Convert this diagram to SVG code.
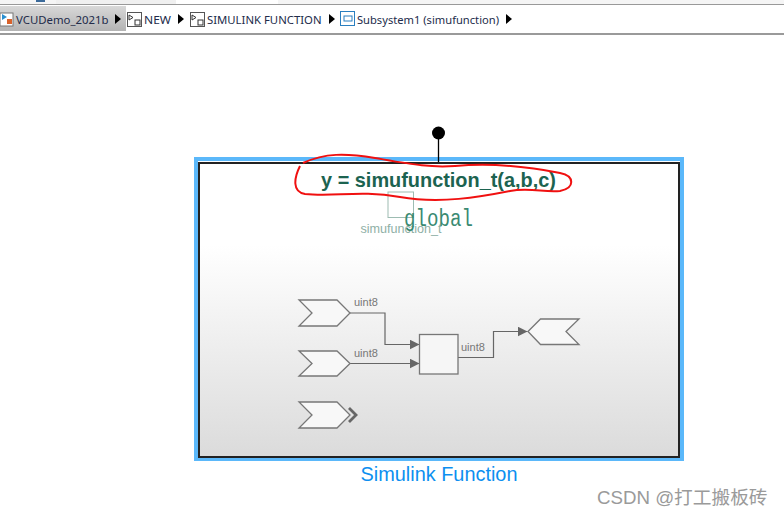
<svg xmlns="http://www.w3.org/2000/svg" width="784" height="516" viewBox="0 0 784 516">
<style>
text{font-family:"Liberation Sans",Arial,sans-serif}
.crumb{font-size:11.500px;fill:#222b4a;font-family:"Noto Sans","Liberation Sans",sans-serif}
.lbl{font-size:11px;fill:#777}
.port{fill:#f8f8f8;stroke:#777;stroke-width:1.3}
.wire{fill:none;stroke:#666;stroke-width:1.2}
.tri{fill:#000}
.ico{fill:#fff;stroke:#555;stroke-width:1}
</style>
<defs>
<linearGradient id="bg" x1="0" y1="0" x2="0" y2="1">
<stop offset="0" stop-color="#fff"/><stop offset="0.28" stop-color="#fff"/><stop offset="1" stop-color="#dbdbdb"/>
</linearGradient>
<linearGradient id="crumbbg" x1="0" y1="0" x2="0" y2="1">
<stop offset="0" stop-color="#d8d8d8"/><stop offset="1" stop-color="#b4b4b4"/>
</linearGradient>
<marker id="arr" markerUnits="userSpaceOnUse" markerWidth="11" markerHeight="10" refX="10" refY="5" orient="auto"><path d="M0 0L10 5L0 10Z" fill="#666"/></marker>
</defs>
<rect width="784" height="516" fill="#fff"/>
<g id="toolbar">
<rect x="0" y="0" width="784" height="4" fill="#f5f5f5"/>
<rect x="56" y="0" width="120" height="4" fill="#f0f0f0"/>
<rect x="176" y="0" width="102" height="4" fill="#fff"/>
<rect x="36" y="0" width="9" height="2" fill="#3b6a9a"/>
<rect x="0" y="4" width="784" height="1" fill="#999"/>
<rect x="0" y="6" width="126" height="25" fill="url(#crumbbg)"/>
<rect x="0" y="33" width="784" height="2" fill="#9a9a9a"/>
<rect x="0" y="13" width="13" height="13" fill="#fff" stroke="#777"/>
<path d="M2 14l5 3-5 3z" fill="#2a8fd0"/><rect x="7" y="19" width="5" height="5" fill="#d9622b"/>
<text class="crumb" x="16" y="24" textLength="92.500" lengthAdjust="spacingAndGlyphs">VCUDemo_2021b</text>
<path class="tri" d="M115 14l6 5-6 5z"/>
<rect class="ico" x="127.500" y="12.500" width="14" height="14"/>
<path d="M129 15l4 2.500-4 2.500z" fill="none" stroke="#333"/><rect x="135" y="20" width="5" height="5" fill="none" stroke="#333"/>
<text class="crumb" x="144" y="24" textLength="27" lengthAdjust="spacingAndGlyphs">NEW</text>
<path class="tri" d="M178 14l6 5-6 5z"/>
<rect class="ico" x="190.500" y="12.500" width="14" height="14"/>
<path d="M192 15l4 2.500-4 2.500z" fill="none" stroke="#333"/><rect x="198" y="20" width="5" height="5" fill="none" stroke="#333"/>
<text class="crumb" x="207" y="24" textLength="114.500" lengthAdjust="spacingAndGlyphs">SIMULINK FUNCTION</text>
<path class="tri" d="M329 14l6 5-6 5z"/>
<rect x="340.500" y="11.500" width="14" height="14" fill="#fff" stroke="#2a7fc0"/>
<rect x="344" y="16" width="8" height="5" fill="#fff" stroke="#2a7fc0"/>
<text class="crumb" x="357" y="24" textLength="142" lengthAdjust="spacingAndGlyphs">Subsystem1 (simufunction)</text>
<path class="tri" d="M506 14l6 5-6 5z"/>
</g>
<g id="function-block">
<rect x="196" y="159" width="486" height="300" fill="none" stroke="#5bb8fa" stroke-width="4"/>
<rect x="199" y="163" width="480" height="294" fill="url(#bg)" stroke="#222" stroke-width="2"/>
</g>
<g id="trigger-port">
<circle cx="438.500" cy="133" r="6.500" fill="#000"/>
</g>
<g id="connectors">
<path d="M438.500 139V162" stroke="#000" stroke-width="1.300" fill="none"/>
<path class="wire" d="M350 313H385V344.500H419.500" marker-end="url(#arr)"/>
<path class="wire" d="M350 363.500H419.500" marker-end="url(#arr)"/>
<path class="wire" d="M458 357.500H493.500V331.500H527.500" marker-end="url(#arr)"/>
<path d="M349 408L356 415L349 422" fill="none" stroke="#666" stroke-width="2.800"/>
</g>
<g id="title">
<text x="438.500" y="187" text-anchor="middle" font-size="19.900" font-weight="700" fill="#1c6350">y = simufunction_t(a,b,c)</text>
</g>
<g id="subsystem-ref">
<rect x="388" y="192" width="25.500" height="25.500" fill="none" stroke="#9dbcb2" stroke-width="1"/>
<text x="401" y="233" text-anchor="middle" font-size="12.600" fill="#8fb0a6">simufunction_t</text>
<text x="404" y="226" font-size="23" fill="#3a8a72" textLength="69" lengthAdjust="spacingAndGlyphs" style="font-family:'Liberation Mono','DejaVu Sans Mono',monospace">global</text>
</g>
<g id="in-a">
<path class="port" d="M299 300H337L350 313L337 326H299L312 313Z"/>
<text class="lbl" x="354" y="306">uint8</text>
</g>
<g id="in-b">
<path class="port" d="M299 351H337L350 363.500L337 376H299L312 363.500Z"/>
<text class="lbl" x="354" y="357">uint8</text>
</g>
<g id="in-c">
<path class="port" d="M299 402H337L350 415L337 428H299L312 415Z"/>
</g>
<g id="sum-block">
<rect x="419.500" y="334.500" width="38.500" height="39.500" fill="#f6f6f6" stroke="#777" stroke-width="1.300"/>
<text class="lbl" x="461" y="351">uint8</text>
</g>
<g id="out-y">
<path class="port" d="M528 331.500L540.500 319H579L566 331.500L579 344.500H540.500Z"/>
</g>
<g id="block-name">
<text x="439" y="481" text-anchor="middle" font-size="19.900" fill="#0d8ff0">Simulink Function</text>
</g>
<g id="annotation">
<path d="M303 163C325 153 345 153 375 158C410 164 430 168 455 166C490 163 530 167 560 173C575 176 575 188 560 191C545 193 530 187 510 191C480 197 440 204 400 197C360 190 335 197 305 194C292 192 294 178 300 166" fill="none" stroke="#f01010" stroke-width="2"/>
</g>
<g id="watermark">
<text x="597" y="504" font-size="18.700" fill="#9a9a9a" style="font-family:'Liberation Sans','Noto Sans CJK SC',sans-serif">CSDN @打工搬板砖</text>
</g>
</svg>
